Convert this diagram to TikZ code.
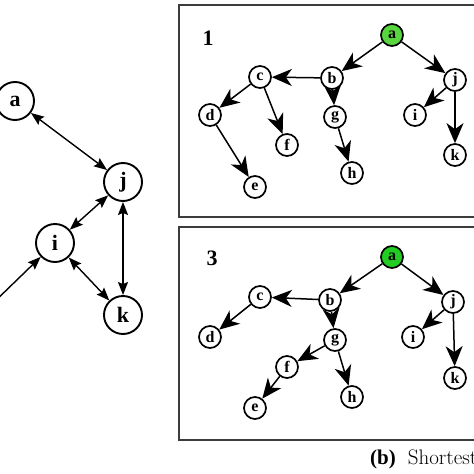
\documentclass[tikz,border=0pt]{standalone}
\usepackage{fontspec}
\usepackage{tikz}
\usetikzlibrary{arrows.meta,positioning}
\newfontfamily\labelfont{Liberation Serif}
\definecolor{rootgreen1}{RGB}{88,214,64}
\definecolor{rootgreen3}{RGB}{34,204,34}
\definecolor{framegray}{RGB}{60,60,60}

\begin{document}
\begin{tikzpicture}
              [x=1pt,y=-1pt,
                big/.style={circle,draw,line width=1.9pt,minimum size=38pt,inner sep=0pt,font=\labelfont\bfseries\fontsize{22}{22}\selectfont},
                small/.style={circle,draw,line width=1.7pt,minimum size=22pt,inner sep=0pt,font=\labelfont\bfseries\fontsize{16}{16}\selectfont},
                link/.style={line width=1.4pt,{Stealth[length=13pt,width=10pt,inset=2pt]}-{Stealth[length=13pt,width=10pt,inset=2pt]}},
                tree/.style={line width=1.5pt,-{Stealth[length=20pt,width=17pt,inset=6pt]}},
                panel/.style={draw=framegray,line width=1.4pt},
                tag/.style={font=\labelfont\bfseries\fontsize{22}{22}\selectfont}]
              \useasboundingbox (0,0) rectangle (474,474);
              % left graph
              \node[big] (a) at (15,101) {a};
              \node[big] (j) at (123,182) {j};
              \node[big] (i) at (55,243) {i};
              \node[big] (k) at (123,315) {k};
              \coordinate (in) at (-12,308);
              \foreach \from/\to in {a/j,j/i,j/k,i/k}
              \draw[link] (\from) -- (\to);
              \draw[line width=1.4pt,-{Stealth[length=13pt,width=10pt,inset=2pt]}] (in) -- (i);
              % panel 1
              \draw[panel] (179,5) rectangle (480,217);
              \node[tag] (t1) at (208,38) {1};
              \node[small,fill=rootgreen1] (a1) at (392,35) {a};
              \foreach \n/\x/\y in {b/332/78,c/260/77,d/210/115,e/255/187,f/287/145,g/335/117,h/352/173,i/415/115,j/455/80,k/455/155}
              \node[small] (\n1) at (\x,\y) {\n};
              \foreach \from/\to in {a/b,a/j,b/c,b/g,c/d,c/f,d/e,g/h,j/i,j/k}
              \draw[tree] (\from1) -- (\to1);
              % panel 3
              \draw[panel] (179,227) rectangle (480,440);
              \node[tag] (t3) at (212,258) {3};
              \node[small,fill=rootgreen3] (a3) at (392,257) {a};
              \foreach \n/\x/\y in {b/330/300,c/260/297,d/210/337,e/255/408,f/287/367,g/335/340,h/352/397,i/413/337,j/453/302,k/455/378}
              \node[small] (\n3) at (\x,\y) {\n};
              \foreach \from/\to in {a/b,a/j,b/c,b/g,c/d,g/f,f/e,g/h,j/i,j/k}
              \draw[tree] (\from3) -- (\to3);
              % caption
              \node[anchor=base west,inner sep=0pt,font=\fontsize{21}{23}\selectfont] (cap) at (370,464) {{\labelfont\bfseries (b)}\hspace{12pt}Shortest};
            \end{tikzpicture}
\end{document}
